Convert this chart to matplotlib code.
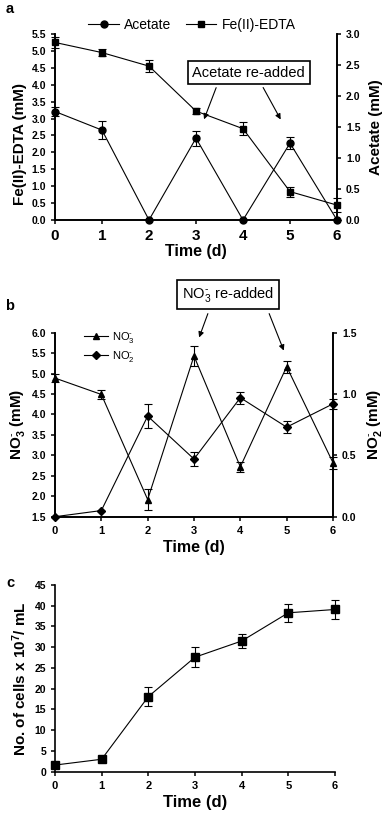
import matplotlib
matplotlib.use("Agg")
import matplotlib.pyplot as plt

plt.rcParams['font.family'] = ['Liberation Sans', 'DejaVu Sans']
plt.rcParams['mathtext.fontset'] = 'custom'
plt.rcParams['mathtext.rm'] = 'Liberation Sans'
plt.rcParams['mathtext.bf'] = 'Liberation Sans:bold'
plt.rcParams['mathtext.it'] = 'Liberation Sans:italic'

days = [0, 1, 2, 3, 4, 5, 6]

# panel a
fe_edta = [5.25, 4.95, 4.55, 3.22, 2.70, 0.84, 0.44]
fe_edta_err = [0.17, 0.10, 0.17, 0.10, 0.20, 0.15, 0.20]
acetate = [1.75, 1.45, 0.0, 1.32, 0.0, 1.24, 0.0]
acetate_err = [0.08, 0.15, 0.0, 0.12, 0.0, 0.10, 0.0]

# panel b
no3 = [4.89, 4.49, 1.92, 5.43, 2.72, 5.17, 2.82]
no3_err = [0.10, 0.12, 0.25, 0.25, 0.12, 0.15, 0.15]
no2 = [0.0, 0.05, 0.82, 0.47, 0.97, 0.73, 0.92]
no2_err = [0.0, 0.0, 0.10, 0.06, 0.05, 0.05, 0.04]

# panel c
cells = [1.6, 3.0, 18.1, 27.6, 31.5, 38.3, 39.1]
cells_err = [0.5, 0.3, 2.2, 2.4, 1.6, 2.2, 2.3]

W, H = 388, 814
fig = plt.figure(figsize=(W / 100, H / 100), dpi=100)


def box(l, r, t, b):
    return [l / W, 1 - b / H, (r - l) / W, (b - t) / H]


def style(ax, xsize, ysize):
    ax.tick_params(direction='out', length=3, width=1.1)
    for s in ax.spines.values():
        s.set_linewidth(1.2)
    for lab in ax.get_xticklabels():
        lab.set_fontweight('bold')
        lab.set_fontsize(xsize)
    for lab in ax.get_yticklabels():
        lab.set_fontweight('bold')
        lab.set_fontsize(ysize)


eb = dict(color='black', lw=0.8, capsize=3, elinewidth=0.8, capthick=0.8, clip_on=False)
arr = dict(arrowstyle='-|>', color='black', lw=0.8, mutation_scale=8)
sup = r'^{\text{-}}'

# ---------- a ----------
ax1 = fig.add_axes(box(55, 337, 34, 220))
ax2 = ax1.twinx()
h1 = ax2.errorbar(days, acetate, yerr=acetate_err, marker='o', ms=5, **eb)
h2 = ax1.errorbar(days, fe_edta, yerr=fe_edta_err, marker='s', ms=5, **eb)
ax1.set_xlim(0, 6)
ax1.set_ylim(0, 5.5)
ax2.set_ylim(0, 3.0)
ax1.set_yticks([i * 0.5 for i in range(12)])
ax2.set_yticks([i * 0.5 for i in range(7)])
ax1.set_yticklabels(['%.1f' % (i * 0.5) for i in range(12)])
ax2.set_yticklabels(['%.1f' % (i * 0.5) for i in range(7)])
ax1.set_xticks(days)
for a in (ax1, ax2):
    a.spines['top'].set_visible(False)
    style(a, 11, 7.5)
ax1.set_xlabel('Time (d)', fontsize=11.5, fontweight='bold', labelpad=1)
ax1.set_ylabel('Fe(II)-EDTA (mM)', fontsize=11, fontweight='bold', labelpad=3)
ax1.yaxis.label.set_y(0.41)
ax2.set_ylabel('Acetate (mM)', fontsize=11, fontweight='bold', labelpad=6)
ax1.legend([h1[0], h2[0]], ['Acetate', 'Fe(II)-EDTA'], ncol=2, frameon=False, fontsize=10,
           loc='center', bbox_to_anchor=(192 / W, 1 - 25 / H), bbox_transform=fig.transFigure,
           handlelength=2.2, columnspacing=1.0, handletextpad=0.4)
ax1.text(4.12, 4.36, 'Acetate re-added', ha='center', va='center', fontsize=10.5,
         bbox=dict(boxstyle='square,pad=0.32', fc='white', ec='black', lw=1.2))
ax1.annotate('', xy=(3.15, 2.90), xytext=(3.45, 3.99), arrowprops=arr)
ax1.annotate('', xy=(4.83, 2.90), xytext=(4.40, 3.99), arrowprops=arr)

# ---------- b ----------
bx1 = fig.add_axes(box(55, 333, 332.7, 516.7))
bx2 = bx1.twinx()
g1 = bx1.errorbar(days, no3, yerr=no3_err, marker='^', ms=5, **eb)
g2 = bx2.errorbar(days, no2, yerr=no2_err, marker='D', ms=4, **eb)
bx1.set_xlim(0, 6)
bx1.set_ylim(1.5, 6.0)
bx2.set_ylim(0, 1.5)
bx1.set_yticks([1.5 + i * 0.5 for i in range(10)])
bx1.set_yticklabels(['%.1f' % (1.5 + i * 0.5) for i in range(10)])
bx2.set_yticks([0, 0.5, 1.0, 1.5])
bx2.set_yticklabels(['0.0', '0.5', '1.0', '1.5'])
bx1.set_xticks(days)
for a in (bx1, bx2):
    a.spines['top'].set_visible(False)
    style(a, 8, 7.5)
bx1.set_xlabel('Time (d)', fontsize=11.5, fontweight='bold', labelpad=3)
bx1.set_ylabel(r'NO$_\mathbf{3}' + sup + '$ (mM)', fontsize=11, fontweight='bold', labelpad=3)
bx2.set_ylabel(r'NO$_\mathbf{2}' + sup + '$ (mM)', fontsize=11, fontweight='bold', labelpad=6)
bx1.legend([g1[0], g2[0]], [r'NO$_3' + sup + '$', r'NO$_2' + sup + '$'], frameon=False, fontsize=8,
           loc='upper left', bbox_to_anchor=(74 / W, 1 - 320 / H), bbox_transform=fig.transFigure,
           handlelength=2.2, handletextpad=0.3, labelspacing=0.35)
bx1.text(3.73, 6.93, r'NO$_3' + sup + '$ re-added', ha='center', va='center', fontsize=10.5,
         bbox=dict(boxstyle='square,pad=0.36', fc='white', ec='black', lw=1.2))
bx1.annotate('', xy=(3.09, 5.82), xytext=(3.32, 6.53), arrowprops=arr, annotation_clip=False)
bx1.annotate('', xy=(4.96, 5.50), xytext=(4.60, 6.53), arrowprops=arr, annotation_clip=False)

# ---------- c ----------
cx = fig.add_axes(box(55, 335, 585, 771.7))
cx.errorbar(days, cells, yerr=cells_err, marker='s', ms=6, **eb)
cx.set_xlim(0, 6)
cx.set_ylim(0, 45)
cx.set_yticks(range(0, 46, 5))
cx.set_xticks(days)
cx.spines['top'].set_visible(False)
cx.spines['right'].set_visible(False)
style(cx, 8, 7.5)
cx.set_xlabel('Time (d)', fontsize=12, fontweight='bold', labelpad=3)
cx.set_ylabel(r'No. of cells x 10$^\mathbf{7}$/ mL', fontsize=11, fontweight='bold', labelpad=4)

for lab, y in (('a', 9), ('b', 306), ('c', 583)):
    fig.text(10 / W, 1 - y / H, lab, fontsize=10.5, fontweight='bold', ha='center', va='center')

fig.savefig('out.png', dpi=100)
